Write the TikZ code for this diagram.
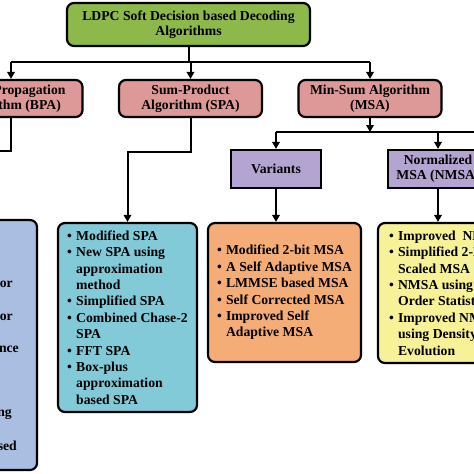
\documentclass[tikz,border=0pt]{standalone}
\usepackage{fontspec}
\setmainfont{Liberation Serif}
\usetikzlibrary{arrows.meta}
\definecolor{cgreen}{RGB}{141,184,74}
\definecolor{cpink}{RGB}{221,152,152}
\definecolor{clav}{RGB}{180,164,210}
\definecolor{cblue}{RGB}{170,190,226}
\definecolor{ccyan}{RGB}{130,202,216}
\definecolor{corange}{RGB}{245,173,120}
\definecolor{cyellow}{RGB}{247,242,152}
\newcommand\bul{\makebox[9pt][l]{\textbullet}}
\newcommand\ind{\hspace*{9pt}}
\begin{document}
\begin{tikzpicture}[x=1pt,y=-1pt,
  box/.style={draw=black, line width=2.2pt, rounded corners=7pt, align=center, inner sep=0pt,
    font=\bfseries\fontsize{13.7}{15}\selectfont},
  hdr/.style={box, minimum width=143pt, minimum height=37pt, fill=cpink},
  subbox/.style={box, rounded corners=0pt, fill=clav, minimum height=38pt},
  lst/.style={box, align=left, font=\bfseries\fontsize{13.7}{16.4}\selectfont},
  frag/.style={anchor=base east, inner sep=0pt, font=\bfseries\fontsize{13.7}{16.4}\selectfont},
  conn/.style={line width=2pt},
  arr/.style={conn, -{Triangle[length=7pt,width=7.5pt]}}]
\useasboundingbox (0,0) rectangle (474,474);
\clip (0,0) rectangle (474,474);
\fill[white] (0,0) rectangle (474,474);

% bus coordinates
\coordinate (bus1) at (0,62);
\coordinate (bus2) at (0,132);
\coordinate (bus3) at (0,152);
\coordinate (bus4) at (0,151);
\coordinate (bus2e) at (490,132);

% top
\node[box, fill=cgreen, minimum width=243pt, minimum height=43pt] (top) at (188.5,24.5)
  {LDPC Soft Decision based Decoding\\Algorithms};

% second row
\node[hdr] (bpa) at (11,98.5) {Belief Propagation\\Algorithm (BPA)};
\node[hdr] (spa) at (190.5,98.5) {Sum-Product\\Algorithm (SPA)};
\node[hdr] (msa) at (370,98.5) {Min-Sum Algorithm\\(MSA)};

% third row
\node[subbox, minimum width=90pt] (var) at (276,169) {Variants};
\node[subbox, minimum width=100pt] (nmsa) at (438,169) {Normalized\\MSA (NMSA)};

% list boxes
\node[lst, fill=cblue, minimum width=147pt, minimum height=250pt] (bpalist) at (-36.5,345) {};
\node[frag] (bf1) at (13,287) {or};
\node[frag] (bf2) at (13,320) {or};
\node[frag] (bf3) at (19,352) {nce};
\node[frag] (bf4) at (12,416) {ng};
\node[frag] (bf5) at (17,450) {sed};

\node[lst, fill=ccyan, minimum width=139pt, minimum height=189pt] (spalist) at (127.5,317.5)
  {\bul Modified SPA\\
   \bul New SPA using\\
   \ind approximation\\
   \ind method\\
   \bul Simplified SPA\\
   \bul Combined Chase-2\\
   \ind SPA\\
   \bul FFT SPA\\
   \bul Box-plus\\
   \ind approximation\\
   \ind based SPA};

\node[lst, fill=corange, minimum width=153pt, minimum height=139pt] (varlist) at (284.5,292.5)
  {\bul Modified 2-bit MSA\\
   \bul A Self Adaptive MSA\\
   \bul LMMSE based MSA\\
   \bul Self Corrected MSA\\
   \bul Improved Self\\
   \ind Adaptive MSA};

\node[lst, fill=cyellow, minimum width=136pt, minimum height=140pt] (nmsalist) at (446,293)
  {\bul Improved~ NMSA\\
   \bul Simplified 2-D\\
   \ind Scaled MSA\\
   \bul NMSA using\\
   \ind Order Statistics\\
   \bul Improved NMSA\\
   \ind using Density\\
   \ind Evolution};

% connectors
\draw[conn] (top.south) -- (top.south |- bus1);
\draw[conn] (bpa.north |- bus1) -- (msa.north |- bus1);
\draw[arr] (bpa.north |- bus1) -- (bpa.north);
\draw[arr] (spa.north |- bus1) -- (spa.north);
\draw[arr] (msa.north |- bus1) -- (msa.north);

\draw[arr] (msa.south) -- (msa.south |- bus2);
\draw[conn] (var.north |- bus2) -- (bus2e);
\draw[arr] (var.north |- bus2) -- (var.north);
\draw[arr] (nmsa.north |- bus2) -- (nmsa.north);

\draw[arr] (var.south) -- (var.south |- varlist.north);
\draw[arr] (nmsa.south) -- (nmsa.south |- nmsalist.north);

\draw[arr] (spa.south) -- (spa.south |- bus3) -- (spalist.north |- bus3) -- (spalist.north);
\draw[arr] (bpa.south) -- (bpa.south |- bus4) -- (bpalist.north |- bus4) -- (bpalist.north);
\end{tikzpicture}
\end{document}
